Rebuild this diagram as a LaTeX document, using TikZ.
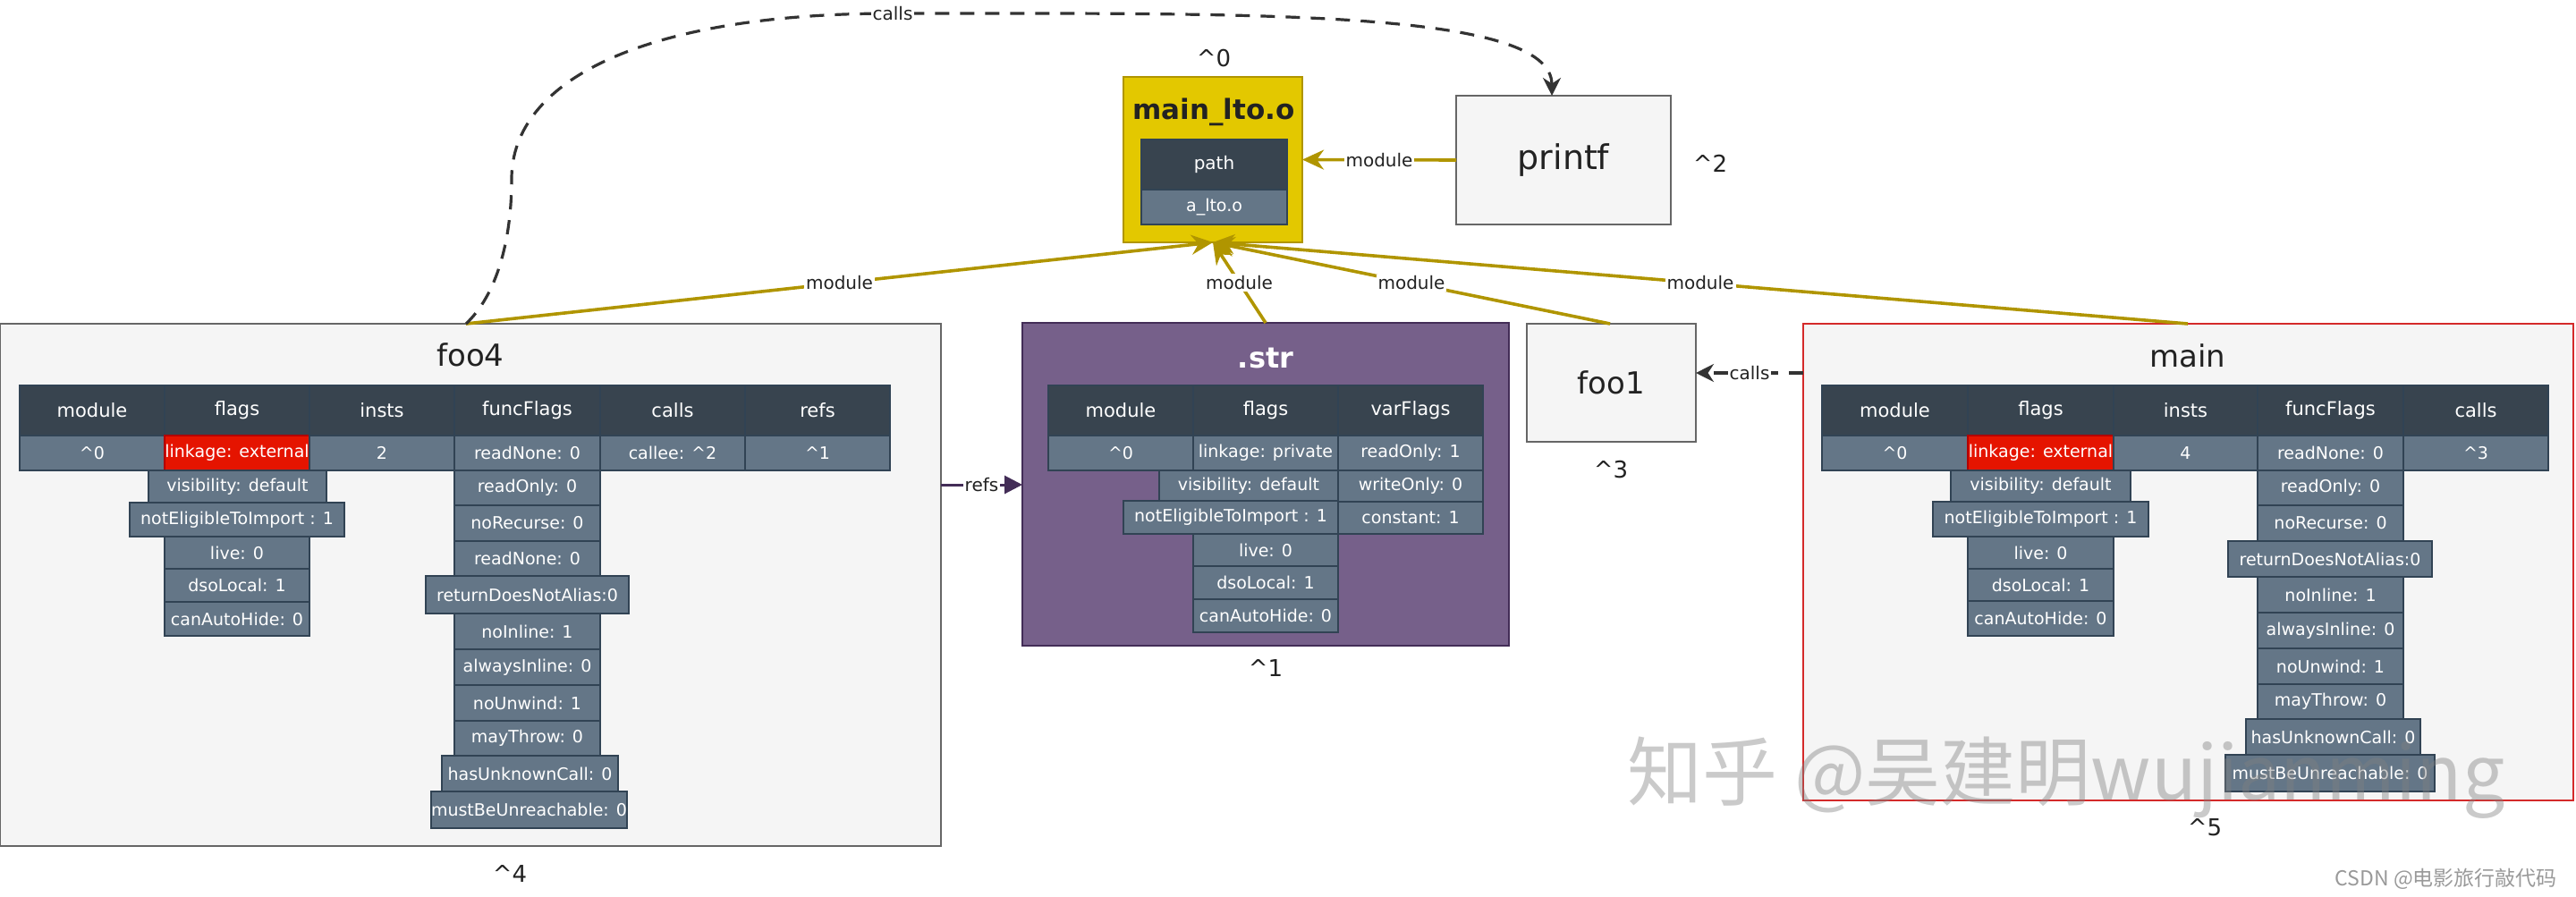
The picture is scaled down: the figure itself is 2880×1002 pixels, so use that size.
\documentclass[tikz,border=0pt]{standalone}
\usepackage{fontspec}
\setmainfont{DejaVu Sans}
\newfontfamily\cjkfont{Noto Sans CJK SC}
\usetikzlibrary{arrows.meta}
\definecolor{hdr}{HTML}{38444F}
\definecolor{cellf}{HTML}{647687}
\definecolor{cells}{HTML}{314354}
\definecolor{redf}{HTML}{E51400}
\definecolor{reds}{HTML}{B20000}
\definecolor{grayf}{HTML}{F5F5F5}
\definecolor{grays}{HTML}{666666}
\definecolor{yelf}{HTML}{E3C800}
\definecolor{yels}{HTML}{B09500}
\definecolor{purf}{HTML}{76608A}
\definecolor{purs}{HTML}{432D57}
\definecolor{mainred}{HTML}{D42A2A}
\definecolor{ink}{HTML}{222222}
\definecolor{edgeolive}{HTML}{B09500}
\definecolor{dashink}{HTML}{333333}

\newcommand\bx[7][cell]{%
  \pgfmathsetmacro\bxw{(#5-#3)*0.5}%
  \pgfmathsetmacro\bxh{(#6-#4)*0.5}%
  \node[#1, minimum width=\bxw pt, minimum height=\bxh pt] (#2) at ({(#3+#5)/2},{(#4+#6)/2}) {#7};}
\newcommand\crt[1]{\textasciicircum#1}

\tikzset{
  base/.style={rectangle, inner sep=0pt, outer sep=0pt, line width=1pt},
  cell/.style={base, draw=cells, fill=cellf, text=white, font=\fontsize{9.5}{11}\selectfont},
  hcell/.style={base, draw=cells, fill=hdr, text=white, font=\fontsize{10.5}{12}\selectfont},
  rcell/.style={cell, draw=reds, fill=redf},
  smcell/.style={cell, font=\fontsize{9.5}{11}\selectfont},
  smhcell/.style={hcell, font=\fontsize{10}{12}\selectfont},
  grpbox/.style={base, draw=grays, fill=grayf},
  mainbox/.style={base, draw=mainred, fill=grayf},
  strbox/.style={base, draw=purs, fill=purf},
  ltobox/.style={base, draw=yels, fill=yelf},
  title/.style={font=\fontsize{17}{20}\selectfont, text=ink, inner sep=0pt},
  idx/.style={font=\fontsize{13}{15}\selectfont, text=ink, inner sep=0pt},
  elabel/.style={fill=white, inner sep=1pt, font=\fontsize{10}{12}\selectfont, text=ink},
  modedge/.style={draw=edgeolive, line width=1.8pt, -{Stealth[length=12pt,width=11pt]}},
  refedge/.style={draw=purs, line width=1.5pt, -{Triangle[length=10pt,width=10pt]}},
  callsedge/.style={draw=dashink, line width=1.6pt, dash pattern=on 8pt off 6pt, -{Stealth[length=10pt,width=10pt]}},
}

\begin{document}
\begin{tikzpicture}[x=0.5pt, y=-0.5pt]
\useasboundingbox (0,0) rectangle (2880,1002);

% ---------- containers ----------
\bx[grpbox]{foo4}{0}{362}{1052}{946}{}
\bx[strbox]{str}{1143}{361}{1687}{722}{}
\bx[grpbox]{foo1}{1707}{362}{1896}{494}{}
\bx[mainbox]{main}{2016}{362}{2877}{895}{}
\bx[ltobox]{mlto}{1256}{86}{1456}{271}{}
\bx[grpbox]{printf}{1628}{107}{1868}{251}{}

% ---------- titles & indices ----------
\node[title] (foo4t) at (526,397) {foo4};
\node[title, text=white, font=\bfseries\fontsize{16}{19}\selectfont] (strt) at (1415,400) {.str};
\node[title] (foo1t) at (1801,428) {foo1};
\node[title] (maint) at (2446,398) {main};
\node[title, font=\bfseries\fontsize{15.5}{18}\selectfont] (mltot) at (1357,125) {main\_lto.o};
\node[title, font=\fontsize{19}{22}\selectfont] (printft) at (1748,179) {printf};

\node[idx] (i0) at (1357,65) {\crt{0}};
\node[idx] (i1) at (1415,747) {\crt{1}};
\node[idx] (i2) at (1912,183) {\crt{2}};
\node[idx] (i3) at (1801,525) {\crt{3}};
\node[idx] (i4) at (570,977) {\crt{4}};
\node[idx] (i5) at (2465,925) {\crt{5}};

% ---------- main_lto.o inner table ----------
\bx[smhcell]{mltoh}{1276}{156}{1439}{212}{path}
\bx[smcell]{mltov}{1276}{212}{1439}{251}{a\_lto.o}

% ---------- foo4 table ----------
\bx[hcell]{f4h1}{22}{431}{184}{487}{module}
\bx[hcell]{f4h2}{184}{431}{346}{487}{flags}
\bx[hcell]{f4h3}{346}{431}{508}{487}{insts}
\bx[hcell]{f4h4}{508}{431}{671}{487}{funcFlags}
\bx[hcell]{f4h5}{671}{431}{833}{487}{calls}
\bx[hcell]{f4h6}{833}{431}{995}{487}{refs}
\bx{f4r1}{22}{487}{184}{526}{\crt{0}}
\bx[rcell]{f4r2}{184}{487}{346}{526}{linkage: external}
\bx{f4r3}{346}{487}{508}{526}{2}
\bx{f4r4}{508}{487}{671}{526}{readNone: 0}
\bx{f4r5}{671}{487}{833}{526}{callee: \crt{2}}
\bx{f4r6}{833}{487}{995}{526}{\crt{1}}
% flags
\bx{f4g1}{166}{526}{365}{562}{visibility: default}
\bx{f4g2}{145}{562}{385}{600}{notEligibleToImport : 1}
\bx{f4g3}{184}{600}{346}{636}{live: 0}
\bx{f4g4}{184}{636}{346}{673}{dsoLocal: 1}
\bx{f4g5}{184}{673}{346}{711}{canAutoHide: 0}
% funcFlags
\bx{f4f1}{508}{526}{671}{565}{readOnly: 0}
\bx{f4f2}{508}{565}{671}{605}{noRecurse: 0}
\bx{f4f3}{508}{605}{671}{644}{readNone: 0}
\bx{f4f4}{476}{644}{703}{686}{returnDoesNotAlias:0}
\bx{f4f5}{508}{686}{671}{726}{noInline: 1}
\bx{f4f6}{508}{726}{671}{766}{alwaysInline: 0}
\bx{f4f7}{508}{766}{671}{806}{noUnwind: 1}
\bx{f4f8}{508}{806}{671}{845}{mayThrow: 0}
\bx{f4f9}{494}{845}{691}{885}{hasUnknownCall: 0}
\bx{f4f10}{482}{885}{701}{926}{mustBeUnreachable: 0}

% ---------- .str table ----------
\bx[hcell]{sh1}{1172}{431}{1334}{487}{module}
\bx[hcell]{sh2}{1334}{431}{1496}{487}{flags}
\bx[hcell]{sh3}{1496}{431}{1658}{487}{varFlags}
\bx{sr1}{1172}{487}{1334}{526}{\crt{0}}
\bx{sr2}{1334}{487}{1496}{526}{linkage: private}
\bx{sr3}{1496}{487}{1658}{526}{readOnly: 1}
\bx{sg1}{1296}{526}{1496}{560}{visibility: default}
\bx{sg2}{1256}{560}{1496}{597}{notEligibleToImport : 1}
\bx{sg3}{1334}{597}{1496}{633}{live: 0}
\bx{sg4}{1334}{633}{1496}{670}{dsoLocal: 1}
\bx{sg5}{1334}{670}{1496}{707}{canAutoHide: 0}
\bx{sv1}{1496}{526}{1658}{561}{writeOnly: 0}
\bx{sv2}{1496}{561}{1658}{597}{constant: 1}

% ---------- main table ----------
\bx[hcell]{mh1}{2037}{431}{2200}{487}{module}
\bx[hcell]{mh2}{2200}{431}{2363}{487}{flags}
\bx[hcell]{mh3}{2363}{431}{2524}{487}{insts}
\bx[hcell]{mh4}{2524}{431}{2687}{487}{funcFlags}
\bx[hcell]{mh5}{2687}{431}{2849}{487}{calls}
\bx{mr1}{2037}{487}{2200}{526}{\crt{0}}
\bx[rcell]{mr2}{2200}{487}{2363}{526}{linkage: external}
\bx{mr3}{2363}{487}{2524}{526}{4}
\bx{mr4}{2524}{487}{2687}{526}{readNone: 0}
\bx{mr5}{2687}{487}{2849}{526}{\crt{3}}
\bx{mg1}{2181}{526}{2382}{561}{visibility: default}
\bx{mg2}{2161}{561}{2402}{600}{notEligibleToImport : 1}
\bx{mg3}{2200}{600}{2363}{636}{live: 0}
\bx{mg4}{2200}{636}{2363}{672}{dsoLocal: 1}
\bx{mg5}{2200}{672}{2363}{711}{canAutoHide: 0}
\bx{mf1}{2524}{526}{2687}{565}{readOnly: 0}
\bx{mf2}{2524}{565}{2687}{605}{noRecurse: 0}
\bx{mf3}{2491}{605}{2719}{645}{returnDoesNotAlias:0}
\bx{mf4}{2524}{645}{2687}{685}{noInline: 1}
\bx{mf5}{2524}{685}{2687}{725}{alwaysInline: 0}
\bx{mf6}{2524}{725}{2687}{765}{noUnwind: 1}
\bx{mf7}{2524}{765}{2687}{804}{mayThrow: 0}
\bx{mf8}{2511}{804}{2706}{844}{hasUnknownCall: 0}
\bx{mf9}{2488}{844}{2722}{885}{mustBeUnreachable: 0}

% ---------- connectors ----------
\coordinate (f4a) at (521,362);
\coordinate (mnt) at (2446,362);
\coordinate (f1t) at (1800,362);
\coordinate (ra) at (1052,542);
\coordinate (ca) at (2016,417);
\coordinate (pt) at (1735,107);

\draw[modedge] (f4a) -- node[elabel]{module} (mlto.south);
\draw[modedge] (str.north) -- node[elabel]{module} (mlto.south);
\draw[modedge] (f1t) -- node[elabel]{module} (mlto.south);
\draw[modedge] (mnt) -- node[elabel]{module} (mlto.south);
\draw[modedge] (printf.west) -- node[elabel]{module} (mlto.east);

\draw[refedge] (ra) -- node[elabel]{refs} (str.west |- ra);
\draw[callsedge] (ca) -- node[elabel]{calls} (foo1.east |- ca);

\draw[callsedge] (f4a) .. controls (555,330) and (572,270) .. (572,200)
  .. controls (572,90) and (720,15) .. (998,15) node[elabel] (callsl) {calls}
  .. controls (1400,15) and (1735,10) .. (pt);

% ---------- watermarks ----------
\node[text=gray, opacity=0.42, font=\cjkfont\fontsize{42}{46}\selectfont] (wm) at (2310,870) {知乎 @吴建明wujianming};
\node[anchor=east, text=gray!80, font=\cjkfont\fontsize{11.5}{13}\selectfont] (csdn) at (2866,983) {CSDN @电影旅行敲代码};
\end{tikzpicture}
\end{document}
